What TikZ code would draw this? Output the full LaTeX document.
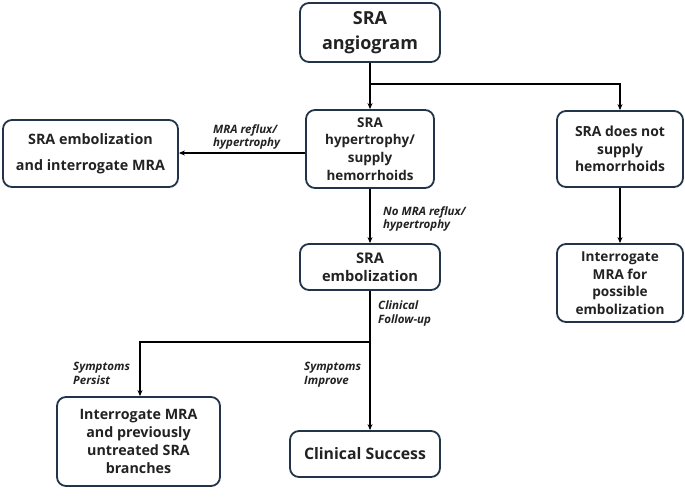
\documentclass[tikz,border=0pt]{standalone}
\usepackage{fontspec}
\setmainfont{Open Sans}
\usetikzlibrary{arrows.meta}
\definecolor{boxline}{HTML}{22344A}
\definecolor{txt}{HTML}{222222}
\newsavebox\fitmeas
\newcommand\fitfont[4]{%
  \sbox\fitmeas{#1\fontsize{10}{12}\selectfont #3}%
  \pgfmathsetmacro\fitsz{10*#2/\the\wd\fitmeas}%
  #1\fontsize{\fitsz}{#4}\selectfont}
\begin{document}
\begin{tikzpicture}[x=1pt,y=-1pt,
  box/.style={draw=boxline, line width=1.8pt, rounded corners=9pt, align=center,
    inner sep=2pt, text=txt},
  conn/.style={line width=1.3pt, -{Stealth[length=6pt,width=5pt]}},
  plain/.style={line width=1.3pt},
  lbl/.style={font=\fitfont{\bfseries\itshape}{64}{MRA reflux/}{13.5}, align=left,
    inner sep=0pt, anchor=base west, text=txt}]
\useasboundingbox (0,0) rectangle (685,497);
\node[box, minimum width=140pt, minimum height=59pt,
  font=\fitfont{\bfseries}{96}{angiogram}{25}] (ang) at (370,32.5) {SRA\\angiogram};
\node[box, minimum width=128pt, minimum height=78pt,
  font=\fitfont{\bfseries}{87}{hemorrhoids}{17.8}] (hyp) at (370,149) {SRA\\hypertrophy/\\supply\\hemorrhoids};
\node[box, minimum width=175pt, minimum height=67pt,
  font=\fitfont{\bfseries}{149}{and interrogate MRA}{26}] (left) at (90.5,153.5) {SRA embolization\\and interrogate MRA};
\node[box, minimum width=126pt, minimum height=76pt,
  font=\fitfont{\bfseries}{90}{SRA does not}{17.5}] (nosup) at (620,149) {SRA does not\\supply\\hemorrhoids};
\node[box, minimum width=140pt, minimum height=46pt,
  font=\fitfont{\bfseries}{96}{embolization}{18}] (emb) at (370,267) {SRA\\embolization};
\node[box, minimum width=126pt, minimum height=78pt,
  font=\fitfont{\bfseries}{89}{embolization}{17.5}] (intr) at (620,283) {Interrogate\\MRA for\\possible\\embolization};
\node[box, minimum width=163pt, minimum height=89pt,
  font=\fitfont{\bfseries}{118}{Interrogate MRA}{18}] (bl) at (138.5,441.5) {Interrogate MRA\\and previously\\untreated SRA\\branches};
\node[box, minimum width=150pt, minimum height=46pt,
  font=\fitfont{\bfseries}{122}{Clinical Success}{18}] (succ) at (365,454) {Clinical Success};

\coordinate (j1) at (370,84);
\coordinate (j2) at (370,342);
\draw[plain] (ang) -- (j1);
\draw[conn] (j1) -- (hyp);
\draw[conn] (j1) -| (nosup);
\draw[conn] (hyp.west |- 0,153) -- (left.east |- 0,153);
\draw[conn] (hyp) -- (emb);
\draw[conn] (nosup) -- (intr);
\draw[plain] (emb) -- (j2);
\draw[conn] (j2) -- (j2 |- succ.north);
\draw[conn] (j2) -| (bl.north -| 140,0);

\node[lbl] (l1) at (213,147) {MRA reflux/\\hypertrophy};
\node[lbl] (l2) at (383,229) {No MRA reflux/\\hypertrophy};
\node[lbl] (l3) at (378,323) {Clinical\\Follow-up};
\node[lbl] (l4) at (73,384) {Symptoms\\Persist};
\node[lbl] (l5) at (304,384) {Symptoms\\Improve};
\end{tikzpicture}
\end{document}
